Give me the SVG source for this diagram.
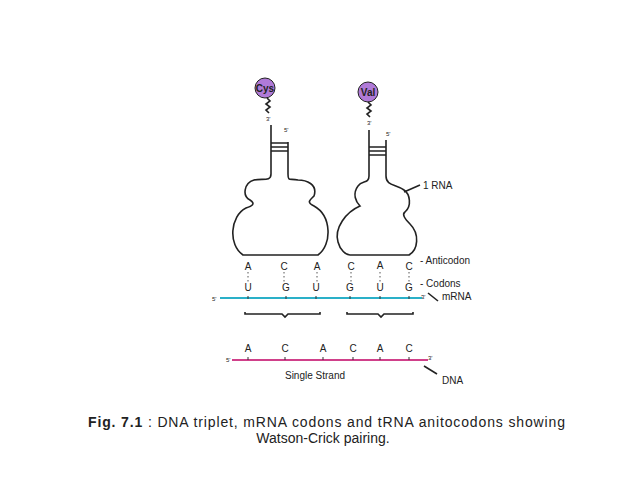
<svg xmlns="http://www.w3.org/2000/svg" width="638" height="478" viewBox="0 0 638 478">
<style>
.l{fill:none;stroke:#222;stroke-width:1.6}
.t{font-family:"Liberation Sans",Arial,sans-serif;fill:#222}
.s{font-size:10px}.m{font-size:11px}.xs{font-size:6px}
.d{stroke:#555;stroke-width:1;stroke-dasharray:1.5 2.5}
</style>
<rect width="638" height="478" fill="#fff"/>
<g id="trna1">
<circle cx="265" cy="88" r="10" fill="#b07ad8" stroke="#222"/>
<text class="t" x="265" y="92" font-size="10" text-anchor="middle" font-weight="bold">Cys</text>
<path class="l" d="M267 98 l3 3 -4 3 4 3 -4 3 3 3" stroke-width="1"/>
<text class="t xs" x="266" y="121">3'</text><text class="t xs" x="284" y="132">5'</text>
<path class="l" d="M271 125 V174 C271 182 262 178 254 180 C244 183 242 196 250 200 C256 204 252 206 246 208 C230 216 228 245 243 255 H318 C332 245 332 216 314 206 C306 202 310 200 314 196 C318 184 306 180 298 180 C290 178 288 182 288 174 V142"/>
<path class="l" d="M271 143 H288 M271 147 H288 M271 151 H288" stroke-width="1.2"/>
</g>
<g id="trna2">
<circle cx="368" cy="92" r="10" fill="#b07ad8" stroke="#222"/>
<text class="t" x="368" y="96" font-size="10" text-anchor="middle" font-weight="bold">Val</text>
<path class="l" d="M368 102 l3 3 -4 3 4 3 -4 3 3 3" stroke-width="1"/>
<text class="t xs" x="367" y="125">3'</text><text class="t xs" x="386" y="136">5'</text>
<path class="l" d="M369 130 V176 C369 184 362 180 358 186 C352 194 356 202 360 206 C346 212 334 228 338 242 C340 250 346 255 350 255 H409 C418 250 420 234 410 224 C404 218 402 214 405 212 C412 206 410 194 404 190 C396 184 386 186 386 176 V140"/>
<path class="l" d="M369 147 H386 M369 151 H386 M369 155 H386" stroke-width="1.2"/>
</g>
<g id="labels">
<path class="l" d="M404 192 L420 185" stroke-width="1"/>
<text class="t s" x="423" y="189">1 RNA</text>
<text class="t s" x="420" y="264">- Anticodon</text>
<text class="t s" x="420" y="287">- Codons</text>
<text class="t s" x="442" y="300">mRNA</text>
<path class="l" d="M428 293 L438 301" stroke-width="1"/>
<text class="t xs" x="421" y="299">3'</text>
<text class="t xs" x="212" y="301">5'</text>
</g>
<g id="bases" class="t s" text-anchor="middle">
<text x="248" y="270">A</text><text x="284" y="270">C</text><text x="317" y="270">A</text>
<text x="351" y="270">C</text><text x="380" y="269">A</text><text x="409" y="270">C</text>
<text x="248" y="291">U</text><text x="286" y="291">G</text><text x="316" y="291">U</text>
<text x="350" y="291">G</text><text x="380" y="291">U</text><text x="409" y="291">G</text>
<text x="248" y="352">A</text><text x="285" y="352">C</text><text x="323" y="352">A</text>
<text x="353" y="352">C</text><text x="380" y="352">A</text><text x="409" y="352">C</text>
</g>
<g id="connectors">
<path class="d" d="M248 272V282 M284 272V282 M317 272V282 M351 272V282 M380 272V282 M409 272V282"/>
<path d="M220 298 H422" stroke="#2ab0c8" stroke-width="2"/>
<path d="M248 296v3 M286 296v3 M316 296v3 M350 296v3 M380 296v3 M409 296v3" stroke="#333"/>
<path class="l" d="M245 312 v2 H282 l3 3 3-3 H320 v-2 M347 312 v2 H378 l3 3 3-3 H413 v-2" stroke-width="1.3"/>
<path d="M232 360 H428" stroke="#d0408a" stroke-width="2"/>
<path d="M248 357v3 M285 357v3 M323 357v3 M353 357v3 M380 357v3 M409 357v3" stroke="#333"/>
<text class="t xs" x="226" y="362">5'</text><text class="t xs" x="428" y="360">3'</text>
<text class="t s" x="315" y="379" text-anchor="middle">Single Strand</text>
<path class="l" d="M424 366 L437 374" stroke-width="1"/>
<text class="t s" x="442" y="384">DNA</text>
</g>
<text class="t" x="88" y="427" font-size="14" textLength="477"><tspan font-weight="bold">Fig. 7.1</tspan> : DNA triplet, mRNA codons and tRNA anitocodons showing</text>
<text class="t" x="323" y="443" font-size="14" text-anchor="middle">Watson-Crick pairing.</text>
</svg>
